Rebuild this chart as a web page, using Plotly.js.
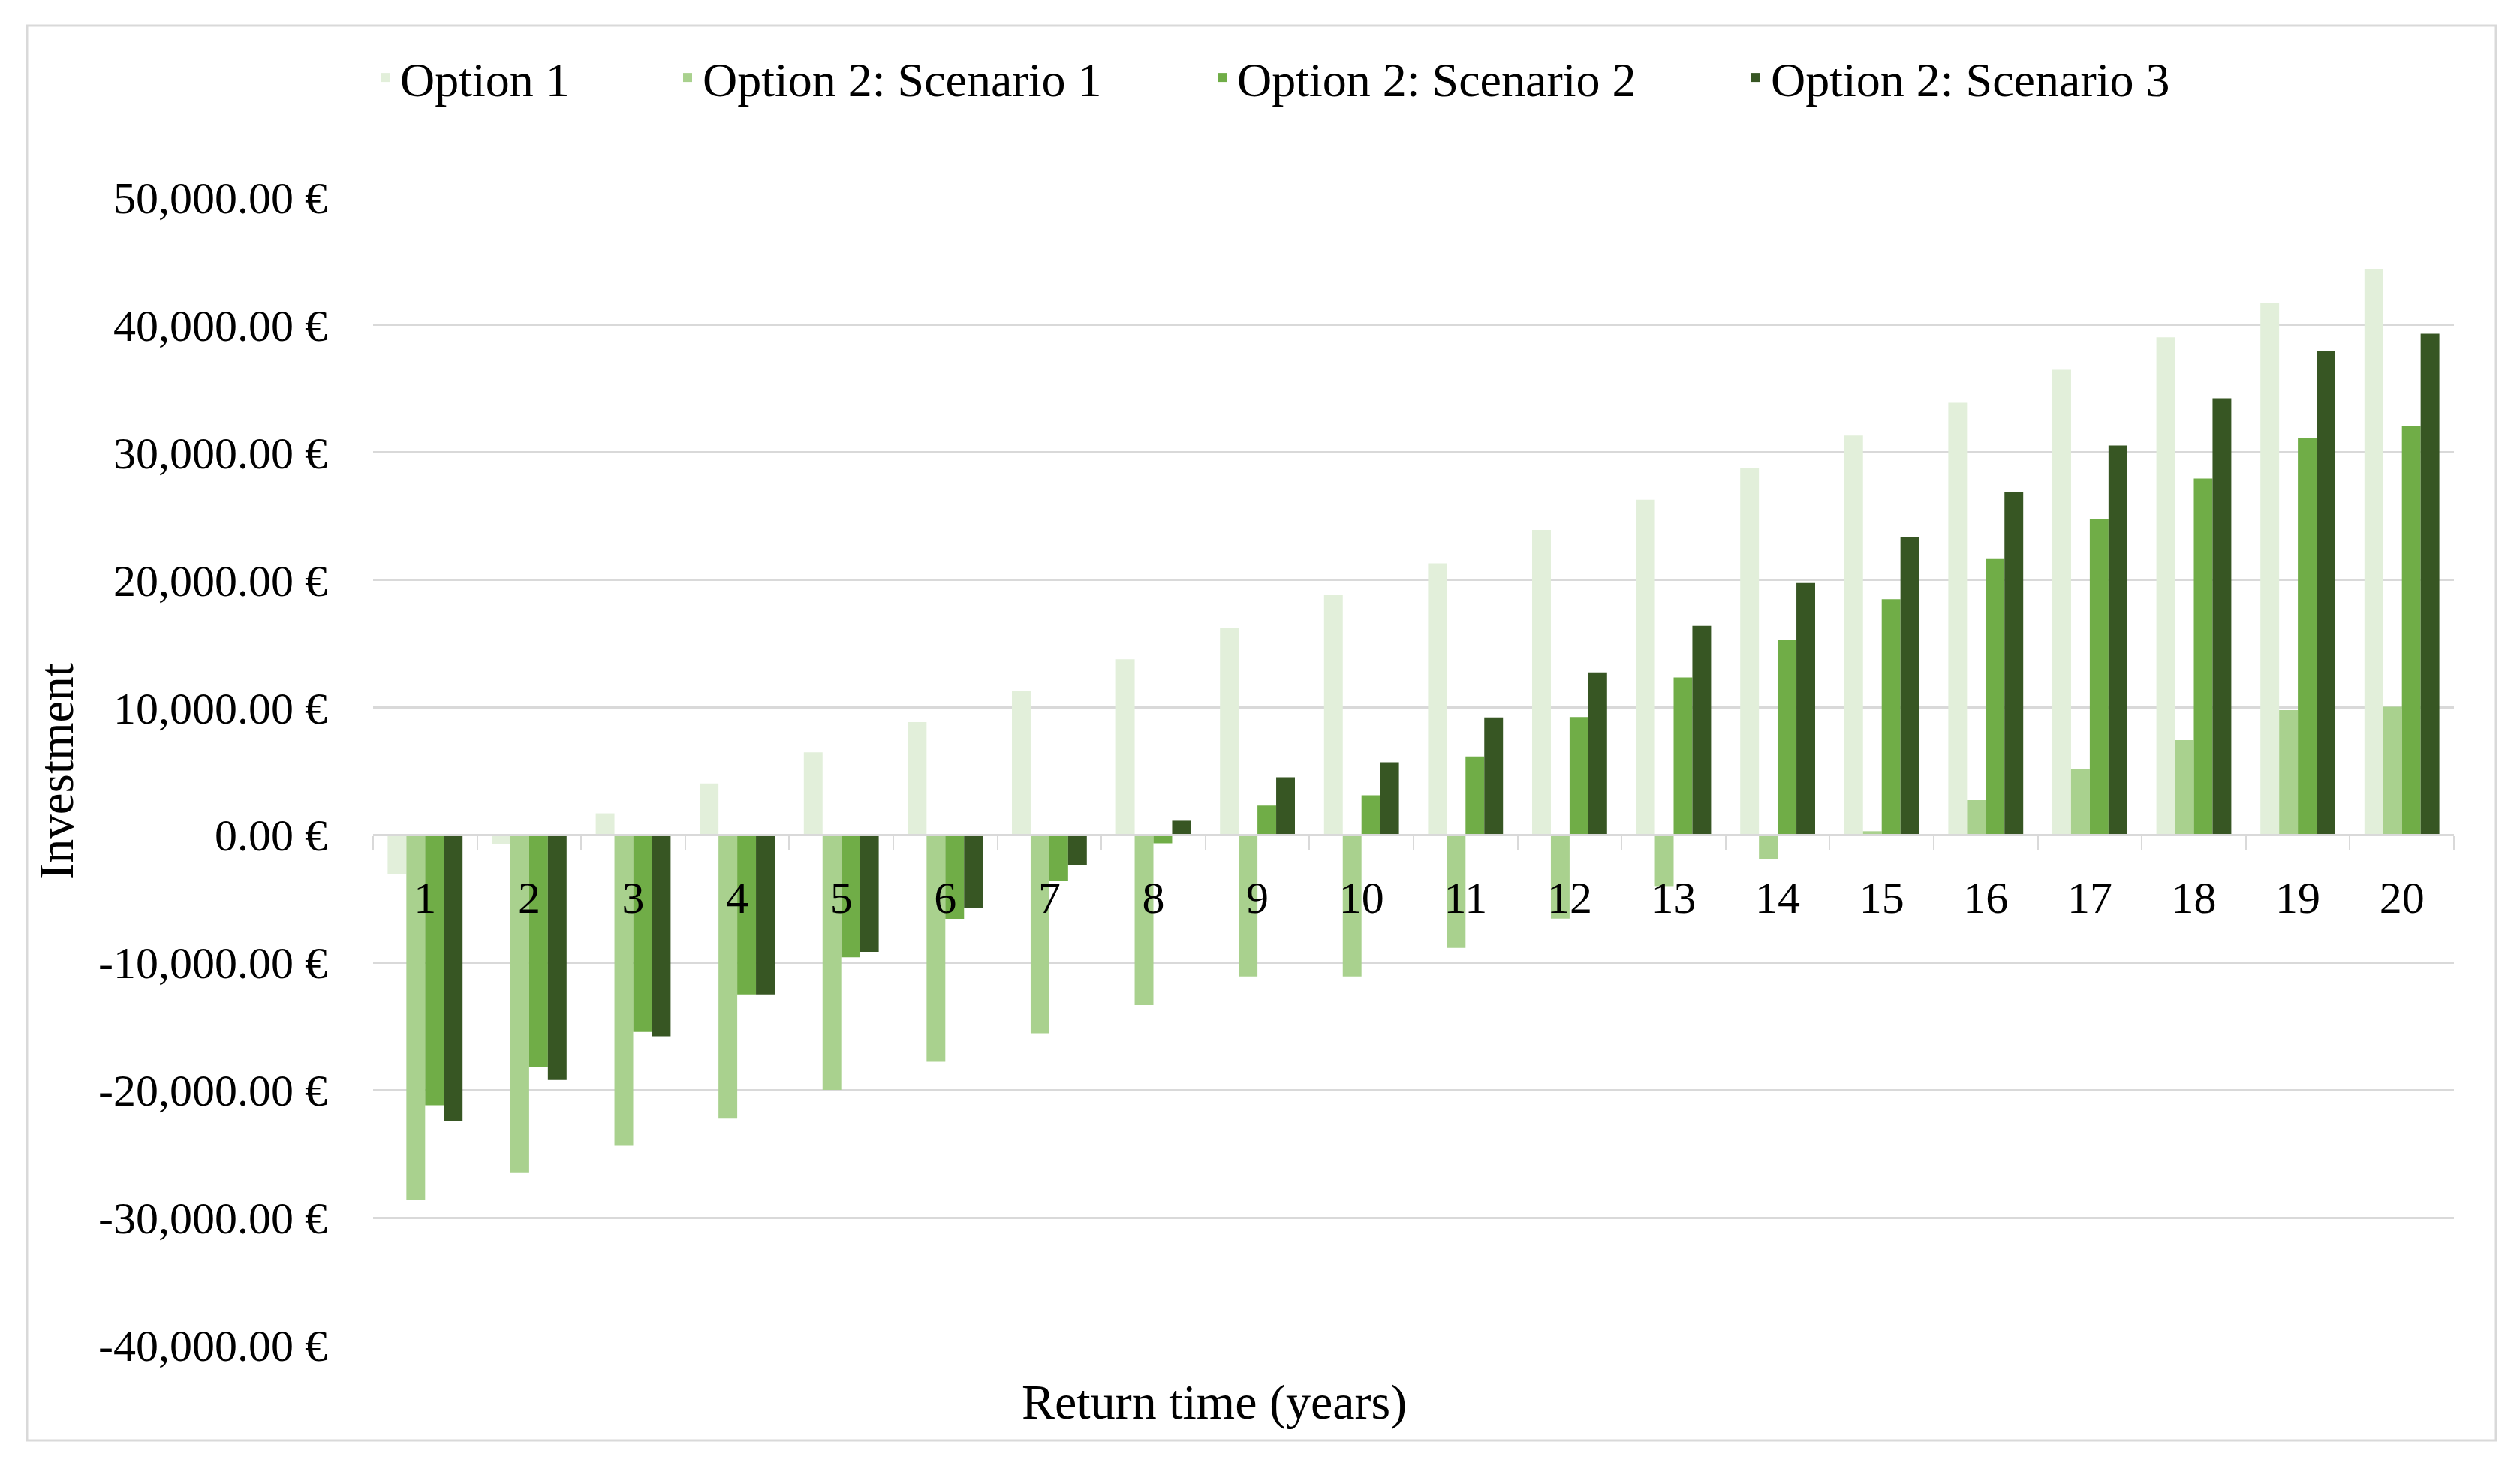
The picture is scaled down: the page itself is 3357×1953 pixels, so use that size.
<!DOCTYPE html>
<html>
<head>
<meta charset="utf-8">
<script src="https://cdn.plot.ly/plotly-3.0.1.min.js"></script>
<style>
  body { margin: 0; background: white; }
</style>
</head>
<body>
<div id="chart" style="width:3357px;height:1953px;"></div>
<script>
// return time in years
var years = ['1','2','3','4','5','6','7','8','9','10','11','12','13','14','15','16','17','18','19','20'];

var option1 = [-3050, -700, 1700, 4050, 6490, 8860, 11320, 13780, 16240, 18800,
  21300, 23920, 26300, 28800, 31320, 33900, 36490, 39040, 41740, 44410];
var scenario1 = [-28630, -26510, -24370, -22240, -19980, -17780, -15540, -13340, -11090, -11090,
  -8850, -6550, -4000, -1900, 300, 2730, 5170, 7450, 9790, 10060];
var scenario2 = [-21200, -18220, -15440, -12490, -9590, -6560, -3630, -650, 2300, 3110,
  6160, 9250, 12360, 15320, 18500, 21650, 24810, 27960, 31140, 32070];
var scenario3 = [-22440, -19200, -15780, -12490, -9150, -5730, -2370, 1120, 4530, 5710,
  9230, 12760, 16400, 19760, 23360, 26910, 30540, 34260, 37930, 39310];

var seriesNames = ['Option 1', 'Option 2: Scenario 1', 'Option 2: Scenario 2', 'Option 2: Scenario 3'];
var seriesColors = ['#e2efda', '#a9d18e', '#70ad47', '#375623'];

var yTickVals = [-40000, -30000, -20000, -10000, 0, 10000, 20000, 30000, 40000, 50000];
var yTickText = ['-40,000.00 €', '-30,000.00 €', '-20,000.00 €', '-10,000.00 €', '0.00 €',
  '10,000.00 €', '20,000.00 €', '30,000.00 €', '40,000.00 €', '50,000.00 €'];

var serif = '"Palatino Linotype", "Book Antiqua", Palatino, "Liberation Serif", serif';
var grey = '#d9d9d9';

var allValues = [option1, scenario1, scenario2, scenario3];
var legendIds = ['legend', 'legend2', 'legend3', 'legend4'];

var data = allValues.map(function (vals, i) {
  return {
    type: 'bar',
    name: seriesNames[i],
    x: years,
    y: vals,
    legend: legendIds[i],
    showlegend: true,
    marker: { color: seriesColors[i] },
    hoverinfo: 'x+y+name'
  };
});

// one legend per series so each entry sits where Excel put it
function legendAt(x) {
  return {
    orientation: 'h',
    xref: 'container', yref: 'container',
    x: x, y: 0.947,
    xanchor: 'left', yanchor: 'middle',
    bgcolor: 'rgba(0,0,0,0)',
    font: { family: serif, size: 64, color: '#000' }
  };
}

var layout = {
  width: 3357,
  height: 1953,
  margin: { l: 497, r: 88, t: 263, b: 161 },
  paper_bgcolor: 'white',
  plot_bgcolor: 'white',
  font: { family: serif, size: 60, color: '#000' },
  showlegend: true,
  barmode: 'group',
  bargap: 0.28,
  bargroupgap: 0,
  legend: legendAt(493 / 3357),
  legend2: legendAt(896 / 3357),
  legend3: legendAt(1608 / 3357),
  legend4: legendAt(2319 / 3357),
  xaxis: {
    type: 'category',
    anchor: 'free',
    position: 40 / 90,
    showline: true,
    linecolor: grey,
    linewidth: 3,
    showgrid: false,
    ticks: 'outside',
    tickson: 'boundaries',
    ticklen: 18,
    tickwidth: 2,
    tickcolor: grey,
    ticklabelstandoff: 30,
    tickfont: { family: serif, size: 60, color: '#000' }
  },
  yaxis: {
    range: [-40000, 50000],
    tickvals: yTickVals,
    ticktext: yTickText,
    showgrid: true,
    gridcolor: grey,
    gridwidth: 3,
    zeroline: false,
    showline: false,
    ticks: '',
    ticklabelstandoff: 60,
    tickfont: { family: serif, size: 60, color: '#000' },
    title: { text: 'Investment', standoff: 12, font: { family: serif, size: 65, color: '#000' } }
  },
  annotations: [{
    text: 'Return time (years)',
    xref: 'paper', yref: 'paper',
    x: (1617 - 497) / 2772, y: (1792 - 1868) / 1529,
    xanchor: 'center', yanchor: 'middle',
    showarrow: false,
    font: { family: serif, size: 66, color: '#000' }
  }],
  shapes: [{
    type: 'rect',
    xref: 'paper', yref: 'paper',
    x0: (36 - 497) / 2772, x1: (3325 - 497) / 2772,
    y0: (1792 - 1919) / 1529, y1: (1792 - 34) / 1529,
    line: { color: grey, width: 3 },
    fillcolor: 'rgba(0,0,0,0)',
    layer: 'below'
  }]
};

Plotly.newPlot('chart', data, layout, { displayModeBar: false });
</script>
</body>
</html>
